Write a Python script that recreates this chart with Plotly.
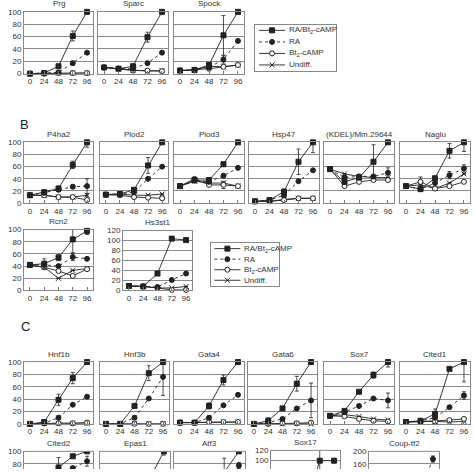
import plotly.graph_objects as go

W = 474
TIMES = [0, 24, 48, 72, 96]
SERIES = ["RA/Bt<sub>2</sub>-cAMP", "RA", "Bt<sub>2</sub>-cAMP", "Undiff."]

# relative expression (% of max), rows in SERIES order
PRG = [[0, 1, 12, 61, 100], [0, 1, 2, 17, 34], [0, 0, 1, 1, 1], [0, 0, 1, 1, 1]]
SPARC = [[10, 8, 12, 59, 100], [10, 8, 8, 17, 34], [10, 8, 5, 5, 4], [10, 8, 6, 4, 5]]
SPOCK = [[5, 6, 14, 62, 100], [5, 6, 10, 23, 53], [5, 6, 8, 11, 14], [5, 6, 12, 11, 14]]

P4HA2 = [[13, 18, 24, 63, 100], [13, 17, 22, 27, 28], [13, 13, 10, 10, 5], [13, 13, 10, 10, 13]]
PLOD2 = [[14, 15, 22, 62, 100], [14, 15, 18, 40, 60], [14, 13, 10, 9, 8], [14, 15, 13, 13, 15]]
PLOD3 = [[28, 38, 38, 64, 100], [28, 37, 35, 45, 58], [28, 40, 30, 30, 28], [28, 36, 33, 33, 28]]
HSP47 = [[3, 5, 19, 68, 100], [3, 5, 13, 36, 54], [3, 3, 5, 8, 8], [3, 3, 6, 8, 8]]
KDEL = [[56, 35, 42, 68, 100], [56, 42, 44, 44, 50], [56, 28, 35, 38, 38], [56, 48, 44, 42, 42]]
NAGLU = [[28, 23, 41, 86, 100], [28, 23, 33, 46, 57], [28, 35, 24, 28, 35], [28, 30, 24, 33, 48]]
RCN2 = [[42, 44, 54, 84, 98], [42, 42, 40, 55, 52], [42, 38, 32, 24, 35], [42, 38, 20, 33, 36]]
HS3ST1 = [[9, 8, 34, 104, 101], [9, 8, 7, 21, 34], [9, 8, 5, 1, 1], [9, 8, 5, 5, 8]]

HNF1B = [[0, 3, 39, 74, 100], [0, 1, 10, 31, 44], [0, 1, 1, 1, 2], [0, 1, 1, 1, 1]]
HNF3B = [[0, 0, 29, 82, 100], [0, 0, 10, 41, 76], [0, 0, 0, 0, 0], [0, 0, 1, 0, 0]]
GATA4 = [[2, 2, 29, 71, 100], [2, 2, 10, 30, 47], [2, 2, 3, 3, 3], [2, 2, 3, 3, 3]]
GATA6 = [[0, 5, 25, 65, 100], [0, 2, 8, 25, 38], [0, 0, 1, 1, 2], [0, 1, 0, 1, 0]]
SOX7 = [[13, 21, 52, 79, 100], [13, 19, 29, 41, 38], [13, 12, 8, 5, 4], [13, 15, 12, 8, 6]]
CITED1 = [[3, 5, 16, 89, 100], [3, 5, 10, 27, 46], [3, 4, 4, 6, 8], [3, 4, 4, 3, 4]]

CITED2 = [[5, 10, 74, 92, 100], [5, 8, 30, 73, 84], [5, 5, 8, 10, 10], [5, 5, 6, 6, 6]]
EPAS1 = [[0, 2, 8, 55, 100], [0, 1, 5, 20, 45], [0, 1, 2, 3, 3], [0, 1, 1, 2, 2]]
ATF3 = [[0, 3, 12, 66, 100], [0, 2, 8, 30, 77], [0, 1, 2, 3, 4], [0, 1, 2, 2, 3]]
SOX17 = [[0, 2, 10, 100, 100], [0, 1, 5, 30, 60], [0, 0, 1, 2, 2], [0, 0, 1, 1, 1]]
COUPTF2 = [[0, 10, 30, 80, 100], [0, 5, 20, 60, 175], [0, 2, 5, 8, 10], [0, 2, 4, 6, 8]]

# error bar half-widths (0 = none)
PRG_ERR = [[0, 0, 0, 8, 0], [0, 0, 0, 3, 2], [0] * 5, [0] * 5]
SPARC_ERR = [[0, 0, 3, 8, 3], [0, 0, 0, 2, 3], [0] * 5, [0] * 5]
SPOCK_ERR = [[0, 0, 3, 32, 0], [0, 0, 2, 6, 0], [0] * 5, [0] * 5]
P4HA2_ERR = [[0, 3, 4, 6, 8], [0, 0, 0, 3, 12], [0] * 5, [0, 0, 0, 0, 2]]
PLOD2_ERR = [[0, 2, 3, 13, 0], [0, 0, 3, 0, 0], [0] * 5, [0] * 5]
PLOD3_ERR = [[0, 3, 2, 0, 0], [0, 0, 0, 3, 0], [0, 0, 0, 6, 0], [0] * 5]
HSP47_ERR = [[0, 0, 4, 21, 17], [0] * 5, [0] * 5, [0] * 5]
KDEL_ERR = [[0, 0, 0, 28, 0], [0, 0, 0, 0, 8], [0] * 5, [0] * 5]
NAGLU_ERR = [[0, 0, 0, 12, 15], [0, 0, 0, 6, 6], [0, 8, 0, 0, 0], [0] * 5]
RCN2_ERR = [[0, 8, 5, 22, 6], [0, 0, 0, 6, 0], [0] * 5, [0] * 5]
HS3ST1_ERR = [[0, 0, 3, 0, 0], [0] * 5, [0] * 5, [0] * 5]
HNF1B_ERR = [[0, 0, 9, 9, 0], [0, 0, 3, 0, 0], [0] * 5, [0] * 5]
HNF3B_ERR = [[0, 0, 0, 12, 0], [0, 0, 3, 0, 30], [0] * 5, [0] * 5]
GATA4_ERR = [[0, 0, 5, 8, 0], [0, 0, 3, 0, 0], [0] * 5, [0] * 5]
GATA6_ERR = [[0, 5, 0, 12, 0], [0, 0, 0, 0, 28], [0] * 5, [0, 0, 0, 0, 3]]
SOX7_ERR = [[0, 0, 0, 5, 8], [0, 0, 0, 0, 12], [0] * 5, [0] * 5]
CITED1_ERR = [[0, 0, 8, 0, 32], [0, 0, 0, 0, 6], [0] * 5, [0] * 5]
CITED2_ERR = [[0, 0, 16, 0, 0], [0, 0, 0, 0, 8], [0] * 5, [0] * 5]
EPAS1_ERR = [[0, 0, 0, 0, 6], [0] * 5, [0] * 5, [0] * 5]
ATF3_ERR = [[0, 0, 0, 23, 0], [0, 0, 0, 0, 5], [0] * 5, [0] * 5]
SOX17_ERR = [[0, 0, 0, 25, 4], [0] * 5, [0] * 5, [0] * 5]
COUPTF2_ERR = [[0] * 5, [0, 0, 0, 0, 10], [0] * 5, [0] * 5]

# title, values, errors, top px, bottom px, left px, right px, y max, y step, y labels
PANELS = [
    ("Prg", PRG, PRG_ERR, 8, 71, 24, 93, 100, 20, True),
    ("Sparc", SPARC, SPARC_ERR, 8, 71, 98, 168, 100, 20, False),
    ("Spock", SPOCK, SPOCK_ERR, 8, 71, 174, 244, 100, 20, False),
    ("P4ha2", P4HA2, P4HA2_ERR, 141, 203, 24, 93, 100, 20, True),
    ("Plod2", PLOD2, PLOD2_ERR, 141, 203, 100, 168, 100, 20, False),
    ("Plod3", PLOD3, PLOD3_ERR, 141, 203, 174, 244, 100, 20, False),
    ("Hsp47", HSP47, HSP47_ERR, 141, 203, 249, 319, 100, 20, False),
    ("(KDEL)/Mm.29644", KDEL, KDEL_ERR, 141, 203, 324, 394, 100, 20, False),
    ("Naglu", NAGLU, NAGLU_ERR, 141, 203, 400, 470, 100, 20, False),
    ("Rcn2", RCN2, RCN2_ERR, 230, 292, 24, 93, 100, 20, True),
    ("Hs3st1", HS3ST1, HS3ST1_ERR, 231, 292, 123, 192, 120, 20, True),
    ("Hnf1b", HNF1B, HNF1B_ERR, 365, 428, 24, 93, 100, 20, True),
    ("Hnf3b", HNF3B, HNF3B_ERR, 365, 428, 100, 169, 100, 20, False),
    ("Gata4", GATA4, GATA4_ERR, 365, 428, 174, 244, 100, 20, False),
    ("Gata6", GATA6, GATA6_ERR, 365, 428, 248, 317, 100, 20, False),
    ("Sox7", SOX7, SOX7_ERR, 365, 428, 324, 394, 100, 20, False),
    ("Cited1", CITED1, CITED1_ERR, 365, 428, 400, 470, 100, 20, False),
    ("Cited2", CITED2, CITED2_ERR, 456, 519, 24, 93, 100, 20, True),
    ("Epas1", EPAS1, EPAS1_ERR, 456, 519, 100, 170, 100, 20, False),
    ("Atf3", ATF3, ATF3_ERR, 456, 519, 174, 245, 100, 20, False),
    ("Sox17", SOX17, SOX17_ERR, 455, 518, 271, 340, 120, 20, True),
    ("Coup-tf2", COUPTF2, COUPTF2_ERR, 456, 519, 369, 439, 200, 40, True),
]

# legend boxes: left, top, right, bottom (px)
LEGENDS = [(255, 21, 336, 68), (211, 244, 279, 287)]

INK = "#222"
STYLE = [
    dict(symbol="square", dash="solid", fill=INK, size=5),
    dict(symbol="circle", dash="dot", fill=INK, size=5),
    dict(symbol="circle", dash="solid", fill="white", size=5),
    dict(symbol="x-thin-open", dash="solid", fill=INK, size=5),
]
FONT = "Liberation Sans, Arial, sans-serif"


def px_x(p):
    return p / W


def px_y(p):
    return 1 - p / W


fig = go.Figure()
layout = dict(
    width=W, height=W, margin=dict(l=0, r=0, t=0, b=0),
    paper_bgcolor="white", plot_bgcolor="white", showlegend=False,
    font=dict(family=FONT, size=8, color="#333"),
)
annotations = []
shapes = []

for i, (title, vals, errs, top, bot, left, right, ymax, step, ylab) in enumerate(PANELS):
    n = "" if i == 0 else str(i + 1)
    cut = bot > W
    bottom_px = min(bot, W)
    if cut:
        ylo = ymax - ymax * (W - top) / (bot - top)
    else:
        ylo = 0
    layout["xaxis" + n] = dict(
        domain=[px_x(left), px_x(right)], range=[-10, 106], anchor="y" + n,
        tickvals=TIMES, ticks="" if cut else "inside", ticklen=3, tickcolor="#777",
        showticklabels=not cut, showline=not cut, mirror=True, linecolor="#888",
        showgrid=False, zeroline=False, tickfont=dict(size=8, color="#333"),
    )
    layout["yaxis" + n] = dict(
        domain=[px_y(bottom_px), px_y(top)], range=[ylo, ymax], anchor="x" + n,
        tickvals=list(range(0, ymax + 1, step)), showticklabels=ylab,
        showgrid=True, gridcolor="#8a8a8a", gridwidth=1, zeroline=False,
        showline=True, mirror=True, linecolor="#888", ticks="",
        tickfont=dict(size=8, color="#333"),
    )
    if cut:
        shapes.append(dict(type="line", xref="x" + n + " domain", yref="y" + n + " domain",
                           x0=0, x1=1, y0=1, y1=1, line=dict(color="#888", width=1)))
    annotations.append(dict(
        x=px_x((left + right) / 2), y=px_y(top - 1.5), xref="paper", yref="paper",
        text=title, showarrow=False, xanchor="center", yanchor="bottom",
        font=dict(size=8, color="#333"),
    ))
    for k in [3, 2, 1, 0]:
        st = STYLE[k]
        err = [e if e else None for e in errs[k]]
        fig.add_trace(go.Scatter(
            x=TIMES, y=vals[k], xaxis="x" + n, yaxis="y" + n, mode="lines+markers",
            line=dict(color=INK, width=0.9, dash=st["dash"]),
            marker=dict(symbol=st["symbol"], size=st["size"], color=st["fill"],
                        line=dict(color=INK, width=1)),
            error_y=dict(type="data", array=err, visible=True, color=INK,
                         thickness=0.8, width=2),
            cliponaxis=cut, name=SERIES[k],
        ))

# hand-drawn legend keys in their own small axes
for j, (left, top, right, bot) in enumerate(LEGENDS):
    n = str(len(PANELS) + 1 + j)
    layout["xaxis" + n] = dict(domain=[px_x(left), px_x(right)], range=[0, 1], anchor="y" + n,
                               showline=True, mirror=True, linecolor="#888", showgrid=False,
                               zeroline=False, showticklabels=False, ticks="")
    layout["yaxis" + n] = dict(domain=[px_y(bot), px_y(top)], range=[len(SERIES) + 0.5, 0.5],
                               anchor="x" + n, showline=True, mirror=True, linecolor="#888",
                               showgrid=False, zeroline=False, showticklabels=False, ticks="")
    key_w = 26 / (right - left)
    for k, name in enumerate(SERIES):
        st = STYLE[k]
        row = k + 1
        fig.add_trace(go.Scatter(
            x=[0.05, 0.05 + key_w / 2, 0.05 + key_w], y=[row, row, row],
            xaxis="x" + n, yaxis="y" + n, mode="lines",
            line=dict(color=INK, width=0.9, dash=st["dash"]), hoverinfo="skip",
        ))
        fig.add_trace(go.Scatter(
            x=[0.05 + key_w / 2], y=[row], xaxis="x" + n, yaxis="y" + n, mode="markers",
            marker=dict(symbol=st["symbol"], size=st["size"], color=st["fill"],
                        line=dict(color=INK, width=1)), hoverinfo="skip",
        ))
        annotations.append(dict(
            x=0.08 + key_w, y=row, xref="x" + n, yref="y" + n, text=name,
            showarrow=False, xanchor="left", yanchor="middle",
            font=dict(size=8, color="#333"),
        ))

annotations.append(dict(x=px_x(18), y=px_y(113), xref="paper", yref="paper", text="B",
                        showarrow=False, font=dict(size=13, color="#222")))
annotations.append(dict(x=px_x(19), y=px_y(338), xref="paper", yref="paper", text="C",
                        showarrow=False, font=dict(size=13, color="#222")))

layout["annotations"] = annotations
layout["shapes"] = shapes
fig.update_layout(**layout)

# drop the browser's default page margin so the figure sits at the top-left corner
fig.write_html("out.html", config={"displayModeBar": False},
               post_script="document.body.style.margin='0';")
